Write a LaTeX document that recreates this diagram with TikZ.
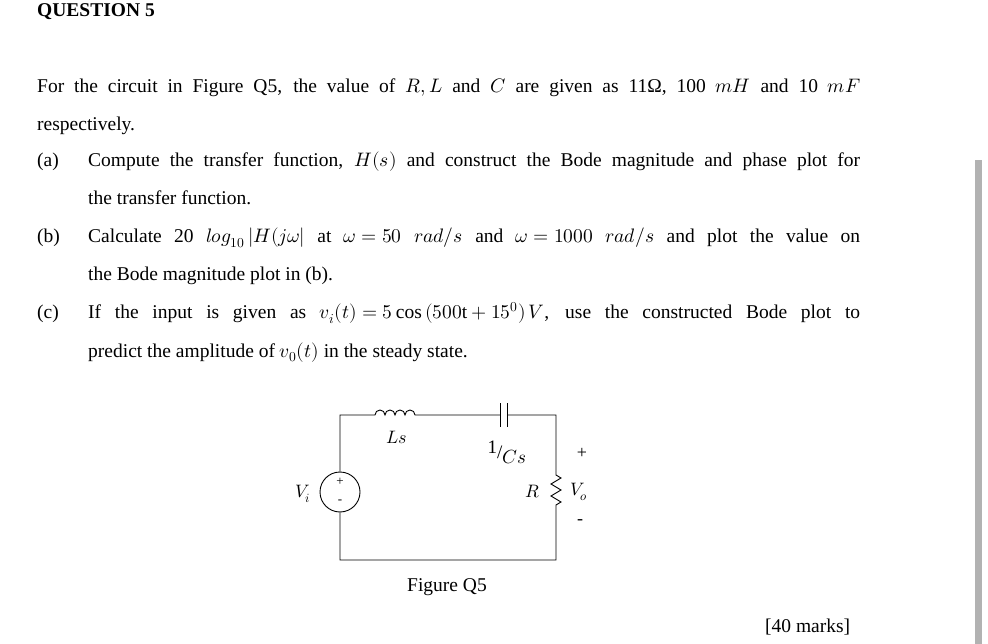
\documentclass[tikz,border=0pt]{standalone}
\usepackage{unicode-math}
\setmainfont{Liberation Serif}
\setmathfont{Latin Modern Math}
\thickmuskip=5mu\relax
\medmuskip=4mu\relax
\begin{document}
\begin{tikzpicture}[x=1pt,y=1pt,
  txt/.style={anchor=base west,inner sep=0pt,font=\fontsize{19.5}{22}\selectfont},
  lab/.style={inner sep=0pt,font=\fontsize{18}{20}\selectfont},
  wire/.style={line width=0.9pt}]
\useasboundingbox[fill=white] (0,0) rectangle (988,-644);
\fill[gray!60] (975,-160) rectangle (982,-644);
\node[txt,font=\bfseries\fontsize{19.5}{22}\selectfont] (q) at (37,-17) {QUESTION 5};
\node[txt] (l1) at (37,-93) {\makebox[823pt][s]{For the circuit in Figure Q5, the value of $R, L$ and $C$ are given as 11Ω, 100 $mH$ and 10 $mF$}};
\node[txt] (l2) at (37,-131) {respectively.};
\node[txt] (a) at (37,-167) {(a)};
\node[txt] (l3) at (88,-167) {\makebox[772pt][s]{Compute the transfer function, $H(s)$ and construct the Bode magnitude and phase plot for}};
\node[txt] (l4) at (88,-205) {the transfer function.};
\node[txt] (b) at (37,-243) {(b)};
\node[txt] (l5) at (88,-243) {\makebox[772pt][s]{Calculate 20 $log_{10}\,|H(j\omega|$ at $\omega=50\ rad/s$ and $\omega=1000\ rad/s$ and plot the value on}};
\node[txt] (l6) at (88,-281) {the Bode magnitude plot in (b).};
\node[txt] (c) at (37,-319) {(c)};
\node[txt] (l7) at (88,-319) {\makebox[772pt][s]{If the input is given as $v_i(t)=5\cos{}(500\mathrm{t}+15^0)\,V$, use the constructed Bode plot to}};
\node[txt] (l8) at (88,-357) {predict the amplitude of $v_0(t)$ in the steady state.};
% circuit
\coordinate (tl) at (340,-415); \coordinate (tr) at (556,-415);
\coordinate (bl) at (340,-560); \coordinate (br) at (556,-560);
\node[circle,draw,line width=0.9pt,minimum size=40pt,inner sep=0pt] (src) at (340,-492) {};
\node[lab,font=\fontsize{13}{13}\selectfont] (sp) at (340,-482) {+};
\node[lab,font=\fontsize{13}{13}\selectfont] (sm) at (340,-502) {-};
\draw[wire] (src.north) -- (tl) -- (375,-415) arc(180:0:5) arc(180:0:5) arc(180:0:5) arc(180:0:5) -- (500,-415);
\draw[wire] (500,-403) -- (500,-427);
\draw[wire] (507,-403) -- (507,-427);
\draw[wire] (507,-415) -- (tr) -- (556,-475) -- (561,-478) -- (551,-484) -- (561,-490) -- (551,-496) -- (561,-502) -- (556,-505) -- (br) -- (bl) -- (src.south);
\node[lab] (ls) at (397,-437) {$Ls$};
\node[lab,font=\fontsize{19}{22}\selectfont] (cs) at (507,-452) {\raisebox{5pt}{1}/\raisebox{-5pt}{$Cs$}};
\node[lab] (rp) at (582,-453) {+};
\node[lab] (rl) at (533,-492) {$R$};
\node[lab] (vo) at (579,-492) {$V_o$};
\node[lab] (rm) at (580,-522) {-};
\node[lab] (vi) at (303,-494) {$V_i$};
\node[lab,font=\fontsize{19.5}{22}\selectfont] (fig) at (447,-587) {Figure Q5};
\node[txt] (m) at (765,-632) {[40 marks]};
\end{tikzpicture}
\end{document}
